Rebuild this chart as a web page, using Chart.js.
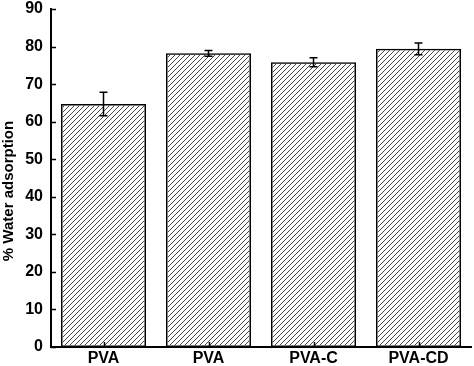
<!DOCTYPE html>
<html>
<head>
<meta charset="utf-8">
<script src="https://cdn.jsdelivr.net/npm/chart.js@4/dist/chart.umd.min.js"></script>
<style>
  body { margin: 0; background: #fff; }
  #wrap { width: 474px; height: 366px; }
</style>
</head>
<body>
<div id="wrap"><canvas id="bars" width="474" height="366"></canvas></div>
<script>
// data
var categories = ["PVA", "PVA", "PVA-C", "PVA-CD"];
var adsorption = [64.7, 78.2, 75.8, 79.4];
var errors = [3.1, 0.75, 1.2, 1.55];
var yTicks = [0, 10, 20, 30, 40, 50, 60, 70, 80, 90];

// diagonal hatch fill
function hatch() {
    var c = document.createElement("canvas");
    c.width = 5;
    c.height = 5;
    var g = c.getContext("2d");
    g.strokeStyle = "#444";
    g.lineWidth = 1;
    g.beginPath();
    g.moveTo(-1, 6); g.lineTo(6, -1);
    g.moveTo(-1, 1); g.lineTo(1, -1);
    g.moveTo(4, 6); g.lineTo(6, 4);
    g.stroke();
    return g.createPattern(c, "repeat");
}

var fontBold = "'Liberation Sans', Arial, sans-serif";

// error bars + inward tick marks + axis title
var extras = {
    id: "extras",
    afterDatasetsDraw: function(chart) {
        var ctx = chart.ctx;
        var y = chart.scales.y;
        var meta = chart.getDatasetMeta(0);
        ctx.save();
        ctx.strokeStyle = "#000";
        ctx.lineWidth = 1.5;
        meta.data.forEach(function(bar, i) {
            var hi = y.getPixelForValue(adsorption[i] + errors[i]);
            var lo = y.getPixelForValue(adsorption[i] - errors[i]);
            ctx.beginPath();
            ctx.moveTo(bar.x, hi); ctx.lineTo(bar.x, lo);
            ctx.moveTo(bar.x - 4, hi); ctx.lineTo(bar.x + 4, hi);
            ctx.moveTo(bar.x - 4, lo); ctx.lineTo(bar.x + 4, lo);
            ctx.stroke();
        });
        ctx.restore();
    },
    afterDraw: function(chart) {
        var ctx = chart.ctx;
        var x = chart.scales.x, y = chart.scales.y;
        var area = chart.chartArea;
        ctx.save();
        ctx.strokeStyle = "#000";
        ctx.lineWidth = 1.5;
        ctx.beginPath();
        yTicks.forEach(function(v) {
            var py = Math.round(y.getPixelForValue(v)) + 0.5;
            ctx.moveTo(area.left, py); ctx.lineTo(area.left + 5, py);
        });
        categories.forEach(function(c, i) {
            var px = Math.round(x.getPixelForValue(i)) + 0.5;
            ctx.moveTo(px, area.bottom); ctx.lineTo(px, area.bottom - 5);
        });
        ctx.stroke();

        ctx.translate(9, 191);
        ctx.rotate(-Math.PI / 2);
        ctx.fillStyle = "#000";
        ctx.font = "bold 15px " + fontBold;
        ctx.textAlign = "center";
        ctx.textBaseline = "middle";
        ctx.fillText("% Water adsorption", 0, 0);
        ctx.restore();
    }
};

new Chart(document.getElementById("bars"), {
    type: "bar",
    data: {
        labels: categories,
        datasets: [{
            data: adsorption,
            backgroundColor: hatch(),
            borderColor: "#000",
            borderWidth: 1.5,
            borderSkipped: false,
            barPercentage: 0.81,
            categoryPercentage: 1
        }]
    },
    options: {
        responsive: false,
        animation: false,
        layout: { padding: { top: 9, right: 3, left: 0, bottom: 0 } },
        plugins: { legend: { display: false }, tooltip: { enabled: false } },
        scales: {
            x: {
                grid: { display: false, drawTicks: false },
                border: { color: "#000", width: 2 },
                ticks: { color: "#000", padding: 2, font: { family: fontBold, size: 16, weight: "bold" } },
                afterFit: function(s) { s.height = 19; s.paddingLeft = 0; s.paddingRight = 0; }
            },
            y: {
                min: 0,
                max: 90,
                grid: { display: false, drawTicks: false },
                border: { color: "#000", width: 2 },
                ticks: { stepSize: 10, color: "#000", padding: 8, font: { family: fontBold, size: 16, weight: "bold" } },
                afterFit: function(s) { s.width = 51; s.paddingTop = 0; s.paddingBottom = 0; }
            }
        }
    },
    plugins: [extras]
});
</script>
</body>
</html>
